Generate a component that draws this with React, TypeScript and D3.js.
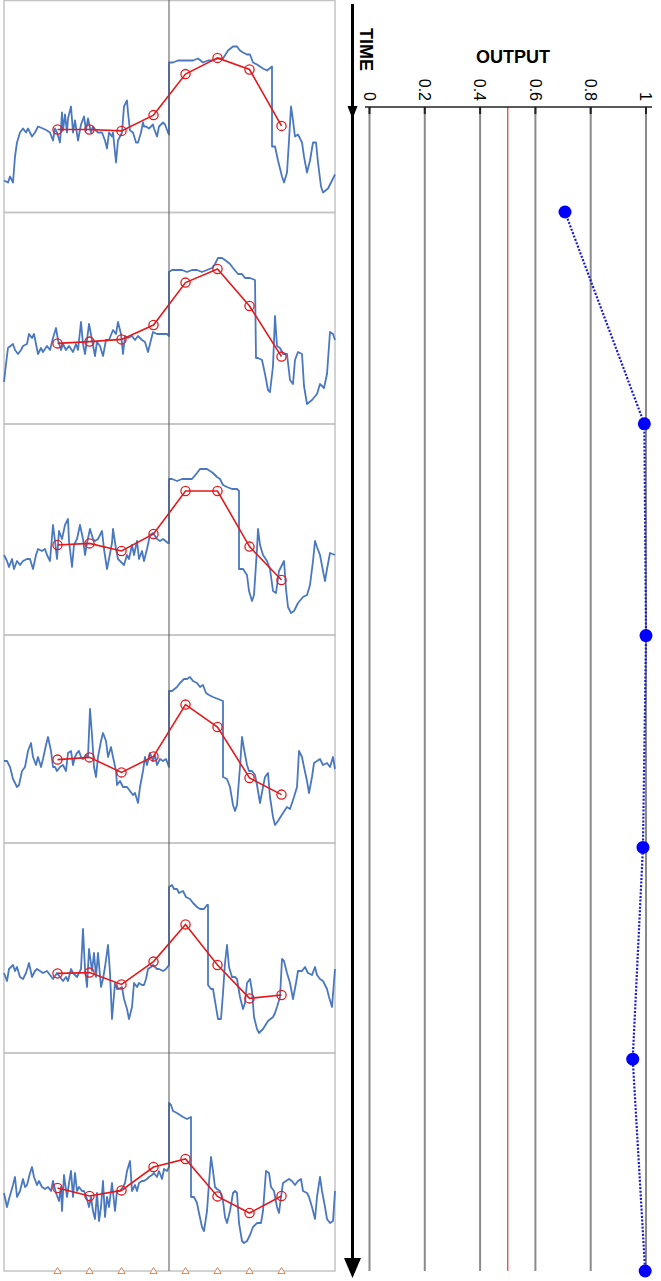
import React from 'react';
import * as d3 from 'd3';

type Pt = [number, number];

// time axis of each panel: sample index, stimulus onset at 169
const SAMPLE_DOMAIN: [number, number] = [4, 335];
const ONSET = 169;
const RED_T = [57.5, 89.5, 121.5, 153.5, 185.5, 217.5, 249.5, 281.5];

// blue raw signals [sample, amplitude]
const SIGNAL_1: Pt[] = [[4,16],[8,15],[10,18],[13,15],[15,28],[17,35],[20,40],[23,42],[26,40],[28,42],[32,38],[35,40],[38,43],[43,42],[47,41],[50,40],[53,36],[55,42],[57,40],[60,35],[62,50],[63,41],[65,49],[67,40],[68,47],[71,53],[73,40],[75,46],[78,36],[81,44],[84,48],[86,41],[88,47],[91,40],[93,43],[96,41],[98,40],[102,40],[105,36],[107,32],[109,40],[112,38],[113,40],[116,25],[118,36],[122,40],[124,53],[127,56],[128,50],[130,41],[133,40],[136,35],[138,35],[141,40],[143,45],[144,43],[146,43],[149,42],[153,44],[154,42],[157,38],[159,43],[163,45],[165,44],[168,40],[169,39],[169,75],[173,75],[178,76],[183,76],[188,76],[193,76],[198,77],[203,75],[208,76],[213,76],[218,77],[223,77],[228,81],[233,83],[237,83],[240,81],[243,80],[247,79],[250,79],[253,75],[257,74],[260,73],[263,72],[267,71],[272,73],[272,33],[275,33],[278,26],[282,18],[284,15],[287,20],[289,36],[291,53],[293,46],[295,38],[298,39],[302,35],[304,28],[307,20],[310,26],[313,35],[316,35],[318,25],[321,13],[323,10],[328,12],[335,19]];
const SIGNAL_2: Pt[] = [[4,21],[6,30],[8,38],[13,40],[15,37],[18,35],[21,37],[23,39],[27,40],[29,45],[32,43],[34,45],[36,40],[38,35],[41,38],[43,36],[47,39],[50,37],[53,43],[56,48],[58,42],[61,37],[63,40],[66,37],[69,39],[73,36],[76,40],[78,37],[81,51],[83,40],[85,35],[87,42],[89,50],[92,42],[95,34],[97,41],[100,39],[103,34],[106,42],[109,42],[113,47],[116,45],[118,51],[121,45],[123,35],[125,44],[128,43],[132,44],[135,42],[138,44],[142,42],[145,41],[148,36],[150,40],[153,46],[157,45],[160,45],[163,45],[167,45],[169,44],[169,76],[172,77],[177,77],[182,77],[187,76],[192,77],[197,77],[202,76],[207,77],[212,78],[215,80],[218,83],[222,83],[225,82],[230,80],[233,78],[238,75],[242,75],[245,73],[250,73],[255,72],[256,33],[258,33],[262,32],[265,25],[268,17],[270,16],[273,29],[275,54],[277,39],[280,38],[283,35],[287,35],[290,22],[293,20],[295,32],[298,36],[302,35],[304,19],[307,10],[312,12],[317,15],[320,20],[324,18],[327,25],[330,46],[333,45],[335,42]];
const SIGNAL_3: Pt[] = [[4,40],[7,37],[9,34],[12,38],[14,33],[17,37],[20,35],[23,37],[27,38],[30,38],[33,33],[36,40],[38,43],[42,42],[45,43],[47,40],[50,37],[53,55],[55,47],[57,38],[59,52],[62,48],[65,55],[68,58],[69,47],[72,34],[74,45],[77,48],[80,55],[83,48],[85,40],[87,46],[90,53],[93,48],[95,47],[98,48],[102,52],[104,43],[107,33],[109,38],[112,46],[113,53],[116,43],[118,38],[122,36],[124,35],[127,40],[129,38],[132,45],[134,40],[137,47],[139,38],[142,42],[144,37],[147,43],[150,50],[153,51],[157,48],[160,47],[163,48],[168,46],[169,46],[169,78],[172,78],[177,77],[182,78],[187,78],[192,78],[197,81],[200,83],[203,83],[207,83],[210,82],[213,81],[217,79],[220,78],[223,75],[227,74],[232,73],[237,73],[239,72],[239,33],[243,33],[247,30],[249,22],[252,17],[254,20],[257,43],[258,53],[260,45],[263,40],[267,37],[270,33],[273,22],[276,21],[279,32],[282,35],[284,37],[286,23],[288,14],[291,11],[294,12],[298,16],[303,19],[307,20],[310,25],[313,37],[315,47],[317,44],[320,40],[323,32],[325,27],[327,33],[330,41],[335,40]];
const SIGNAL_4: Pt[] = [[4,41],[7,41],[10,38],[13,32],[17,28],[19,29],[22,36],[25,38],[28,46],[31,50],[33,43],[36,39],[38,43],[41,38],[43,42],[46,49],[48,53],[51,46],[53,38],[55,38],[57,36],[60,38],[63,39],[66,36],[68,45],[71,46],[73,39],[75,43],[77,45],[79,46],[81,43],[83,42],[86,44],[88,43],[90,67],[92,54],[94,38],[96,33],[98,43],[101,51],[103,55],[106,51],[108,43],[111,48],[113,43],[116,36],[117,29],[120,31],[123,28],[127,28],[130,26],[133,24],[135,25],[138,20],[140,28],[143,36],[145,43],[147,39],[150,45],[153,41],[155,44],[157,39],[160,42],[163,41],[166,42],[169,38],[169,76],[172,76],[177,78],[180,80],[184,82],[187,82],[190,83],[193,81],[197,80],[200,78],[203,79],[206,75],[209,74],[213,73],[218,72],[223,71],[223,33],[227,32],[230,28],[233,19],[235,16],[237,19],[240,38],[242,53],[244,47],[247,39],[249,36],[252,36],[255,34],[257,29],[260,20],[263,28],[265,33],[268,35],[270,23],[273,13],[275,9],[278,11],[283,15],[287,18],[290,17],[294,23],[297,28],[299,46],[302,43],[304,38],[307,31],[309,25],[312,33],[314,40],[317,41],[320,42],[323,39],[327,40],[330,38],[333,43],[335,37]];
const SIGNAL_5: Pt[] = [[4,40],[7,36],[9,42],[13,44],[15,41],[17,43],[20,38],[23,37],[26,40],[29,45],[32,38],[35,41],[37,42],[40,41],[43,40],[47,41],[50,39],[53,37],[57,40],[60,38],[63,36],[66,38],[68,36],[71,42],[73,40],[77,38],[81,42],[83,62],[85,42],[87,33],[89,52],[92,41],[94,50],[96,38],[98,50],[101,33],[103,37],[105,43],[108,54],[110,40],[112,17],[115,35],[117,32],[119,32],[122,33],[124,27],[127,22],[129,17],[132,23],[134,35],[137,33],[139,35],[142,34],[144,34],[146,37],[148,42],[151,43],[153,44],[157,42],[159,42],[163,41],[166,42],[169,44],[169,83],[172,84],[174,82],[177,82],[179,80],[183,81],[186,78],[190,77],[193,75],[197,73],[200,72],[204,72],[207,74],[208,74],[208,34],[211,32],[213,32],[216,23],[218,17],[221,17],[223,30],[225,45],[227,54],[229,43],[232,38],[235,38],[237,37],[240,28],[243,22],[245,25],[247,35],[250,37],[252,31],[254,18],[257,12],[259,10],[263,12],[268,16],[273,18],[275,20],[277,23],[280,28],[282,47],[284,46],[287,40],[290,35],[293,27],[296,35],[298,41],[302,41],[305,43],[308,40],[312,39],[315,43],[317,39],[320,37],[323,36],[327,32],[329,28],[332,23],[335,42]];
const SIGNAL_6: Pt[] = [[4,39],[7,32],[9,36],[13,43],[15,47],[17,37],[20,40],[23,46],[25,42],[27,43],[30,49],[32,52],[34,47],[37,43],[39,45],[42,42],[45,41],[48,42],[51,40],[53,45],[56,39],[59,35],[61,42],[62,30],[64,48],[67,37],[69,44],[71,50],[73,37],[75,49],[77,40],[79,42],[82,40],[84,40],[87,36],[89,32],[91,37],[93,30],[95,26],[97,39],[99,25],[101,32],[103,45],[105,27],[107,37],[109,32],[112,44],[115,30],[117,40],[120,40],[123,42],[125,44],[127,50],[130,55],[132,40],[135,43],[137,40],[139,44],[142,45],[144,45],[147,46],[149,47],[152,48],[154,49],[157,47],[159,50],[162,46],[164,51],[167,50],[169,52],[169,84],[171,83],[173,80],[177,79],[180,78],[183,77],[187,76],[191,77],[191,37],[194,37],[197,34],[199,29],[202,22],[204,20],[207,30],[209,44],[211,57],[213,50],[215,42],[217,41],[220,40],[223,35],[225,27],[227,24],[230,30],[233,39],[235,40],[237,39],[239,24],[242,15],[244,14],[247,15],[250,18],[253,22],[257,24],[261,24],[263,30],[266,50],[269,49],[271,42],[274,40],[277,32],[279,29],[281,37],[283,44],[286,45],[289,46],[292,45],[295,43],[298,45],[301,46],[303,40],[307,39],[309,37],[312,32],[315,26],[317,37],[320,47],[322,40],[325,32],[327,26],[330,24],[333,25],[335,40]];

// red window averages
const RED_1 = [41.5, 41.5, 40.8, 48.7, 69.2, 77.3, 71.5, 43.3];
const RED_2 = [40.3, 41.2, 42.3, 49.5, 70.7, 77.5, 59, 33.7];
const RED_3 = [45, 45.8, 42, 50.5, 72, 72, 44.2, 27.5];
const RED_4 = [41.7, 42.8, 35.3, 43.3, 69.2, 58, 32.5, 24.2];
const RED_5 = [39.8, 40.2, 34.3, 45.7, 64.3, 44, 27.3, 29];
const RED_6 = [41.5, 37.5, 40.3, 52, 56, 37.3, 29, 37.5];

const SIGNALS = [SIGNAL_1, SIGNAL_2, SIGNAL_3, SIGNAL_4, SIGNAL_5, SIGNAL_6];
const REDS = [RED_1, RED_2, RED_3, RED_4, RED_5, RED_6];

// output axis
const OUTPUT_TICKS = [0, 0.2, 0.4, 0.6, 0.8, 1];
const OUTPUT_TICK_LABELS = ['0', '0.2', '0.4', '0.6', '0.8', '1'];
const OUTPUT_STEPS = [1, 2, 3, 4, 5, 6];
const OUTPUT_VALUES = [0.707, 0.994, 1.0, 0.989, 0.952, 0.997];
const THRESHOLD = 0.5;

const W = 661;
const H = 1281;
const PANEL_LEFT = 4;
const PANEL_RIGHT = 335;
const PANEL_EDGES = [0.5, 212.5, 424, 635, 843, 1053, 1271];
const UNIT_PX = 2;

const FONT = "Arial, 'Liberation Sans', Helvetica, sans-serif";

export default function App() {
  const xs = d3.scaleLinear().domain(SAMPLE_DOMAIN).range([PANEL_LEFT, PANEL_RIGHT]);
  const outX = d3.scaleLinear().domain([0, 1]).range([369.5, 646]);
  const stepY = d3.scaleLinear().domain([1, 6]).range([212, 1271]);
  const axisY = 107;
  const gridBottom = 1271;
  const tri = d3.symbol().type(d3.symbolTriangle).size(22)() as string;

  const outLine = d3
    .line<number>()
    .x((d) => outX(d))
    .y((_, i) => stepY(OUTPUT_STEPS[i]));

  return (
    <svg
      width={W}
      height={H}
      viewBox={`0 0 ${W} ${H}`}
      style={{ position: 'absolute', left: 0, top: 0, display: 'block', background: '#fff' }}
    >
      <rect x={0} y={0} width={W} height={H} fill="#fff" />
      {/* panels */}
      {SIGNALS.map((sig, p) => {
        const top = PANEL_EDGES[p];
        const bottom = PANEL_EDGES[p + 1];
        const ys = d3
          .scaleLinear()
          .domain([0, (bottom - top) / UNIT_PX])
          .range([bottom, top]);
        const line = d3
          .line<Pt>()
          .x((d) => xs(d[0]))
          .y((d) => ys(d[1]));
        const redPts: Pt[] = REDS[p].map((v, i) => [RED_T[i], v]);
        return (
          <g key={p}>
            <rect
              x={PANEL_LEFT}
              y={top}
              width={PANEL_RIGHT - PANEL_LEFT}
              height={bottom - top}
              fill="none"
              stroke="#c4c4c4"
              strokeWidth={1.5}
            />
            <path d={line(sig) || ''} fill="none" stroke="#4a78c0" strokeWidth={1.8} strokeLinejoin="round" />
            <path d={line(redPts) || ''} fill="none" stroke="#e3191c" strokeWidth={1.6} />
            {redPts.map((d, i) => (
              <circle key={i} cx={xs(d[0])} cy={ys(d[1])} r={4.6} fill="none" stroke="#e3191c" strokeWidth={1.3} />
            ))}
          </g>
        );
      })}
      {/* onset divider */}
      <line x1={xs(ONSET)} x2={xs(ONSET)} y1={0} y2={PANEL_EDGES[6]} stroke="#555" strokeWidth={1} />
      {/* window markers */}
      {RED_T.map((t, i) => (
        <path
          key={i}
          d={tri}
          transform={`translate(${xs(t)},${PANEL_EDGES[6] + 0.5})`}
          fill="#fff"
          stroke="#e08a55"
          strokeWidth={1}
        />
      ))}

      {/* TIME arrow */}
      <line x1={352.5} x2={352.5} y1={4} y2={1262} stroke="#000" strokeWidth={3} />
      <path d="M347.5,106 L357.5,106 L352.5,119 Z" fill="#000" />
      <path d="M344,1258 L361,1258 L352.5,1278 Z" fill="#000" />
      <text
        transform="translate(366,28) rotate(90)"
        dy="0.35em"
        fontFamily={FONT}
        fontWeight="bold"
        fontSize={18}
        fill="#000"
      >
        TIME
      </text>

      {/* output axis */}
      <text x={513} y={63} textAnchor="middle" fontFamily={FONT} fontWeight="bold" fontSize={18} fill="#000">
        OUTPUT
      </text>
      {OUTPUT_TICKS.map((t) => (
        <line
          key={'g' + t}
          x1={outX(t)}
          x2={outX(t)}
          y1={axisY}
          y2={gridBottom}
          stroke="#8a8a8a"
          strokeWidth={2}
        />
      ))}
      {OUTPUT_TICKS.map((t) => (
        <line key={'t' + t} x1={outX(t)} x2={outX(t)} y1={axisY} y2={axisY + 7} stroke="#222" strokeWidth={2} />
      ))}
      <line
        x1={outX(THRESHOLD)}
        x2={outX(THRESHOLD)}
        y1={axisY}
        y2={gridBottom}
        stroke="#e03a3a"
        strokeWidth={1.2}
      />
      <line x1={365} x2={652} y1={axisY} y2={axisY} stroke="#222" strokeWidth={1.5} />
      {OUTPUT_TICKS.map((t, i) => (
        <text
          key={'l' + t}
          transform={`translate(${outX(t)},101) rotate(90)`}
          dy="0.35em"
          textAnchor="end"
          fontFamily={FONT}
          fontSize={16}
          fill="#000"
        >
          {OUTPUT_TICK_LABELS[i]}
        </text>
      ))}

      {/* output series */}
      <path
        d={outLine(OUTPUT_VALUES) || ''}
        fill="none"
        stroke="#1a1ad6"
        strokeWidth={2.2}
        strokeDasharray="2,1.6"
      />
      {OUTPUT_VALUES.map((v, i) => (
        <circle key={i} cx={outX(v)} cy={stepY(OUTPUT_STEPS[i])} r={6.5} fill="#0000ff" />
      ))}
    </svg>
  );
}
